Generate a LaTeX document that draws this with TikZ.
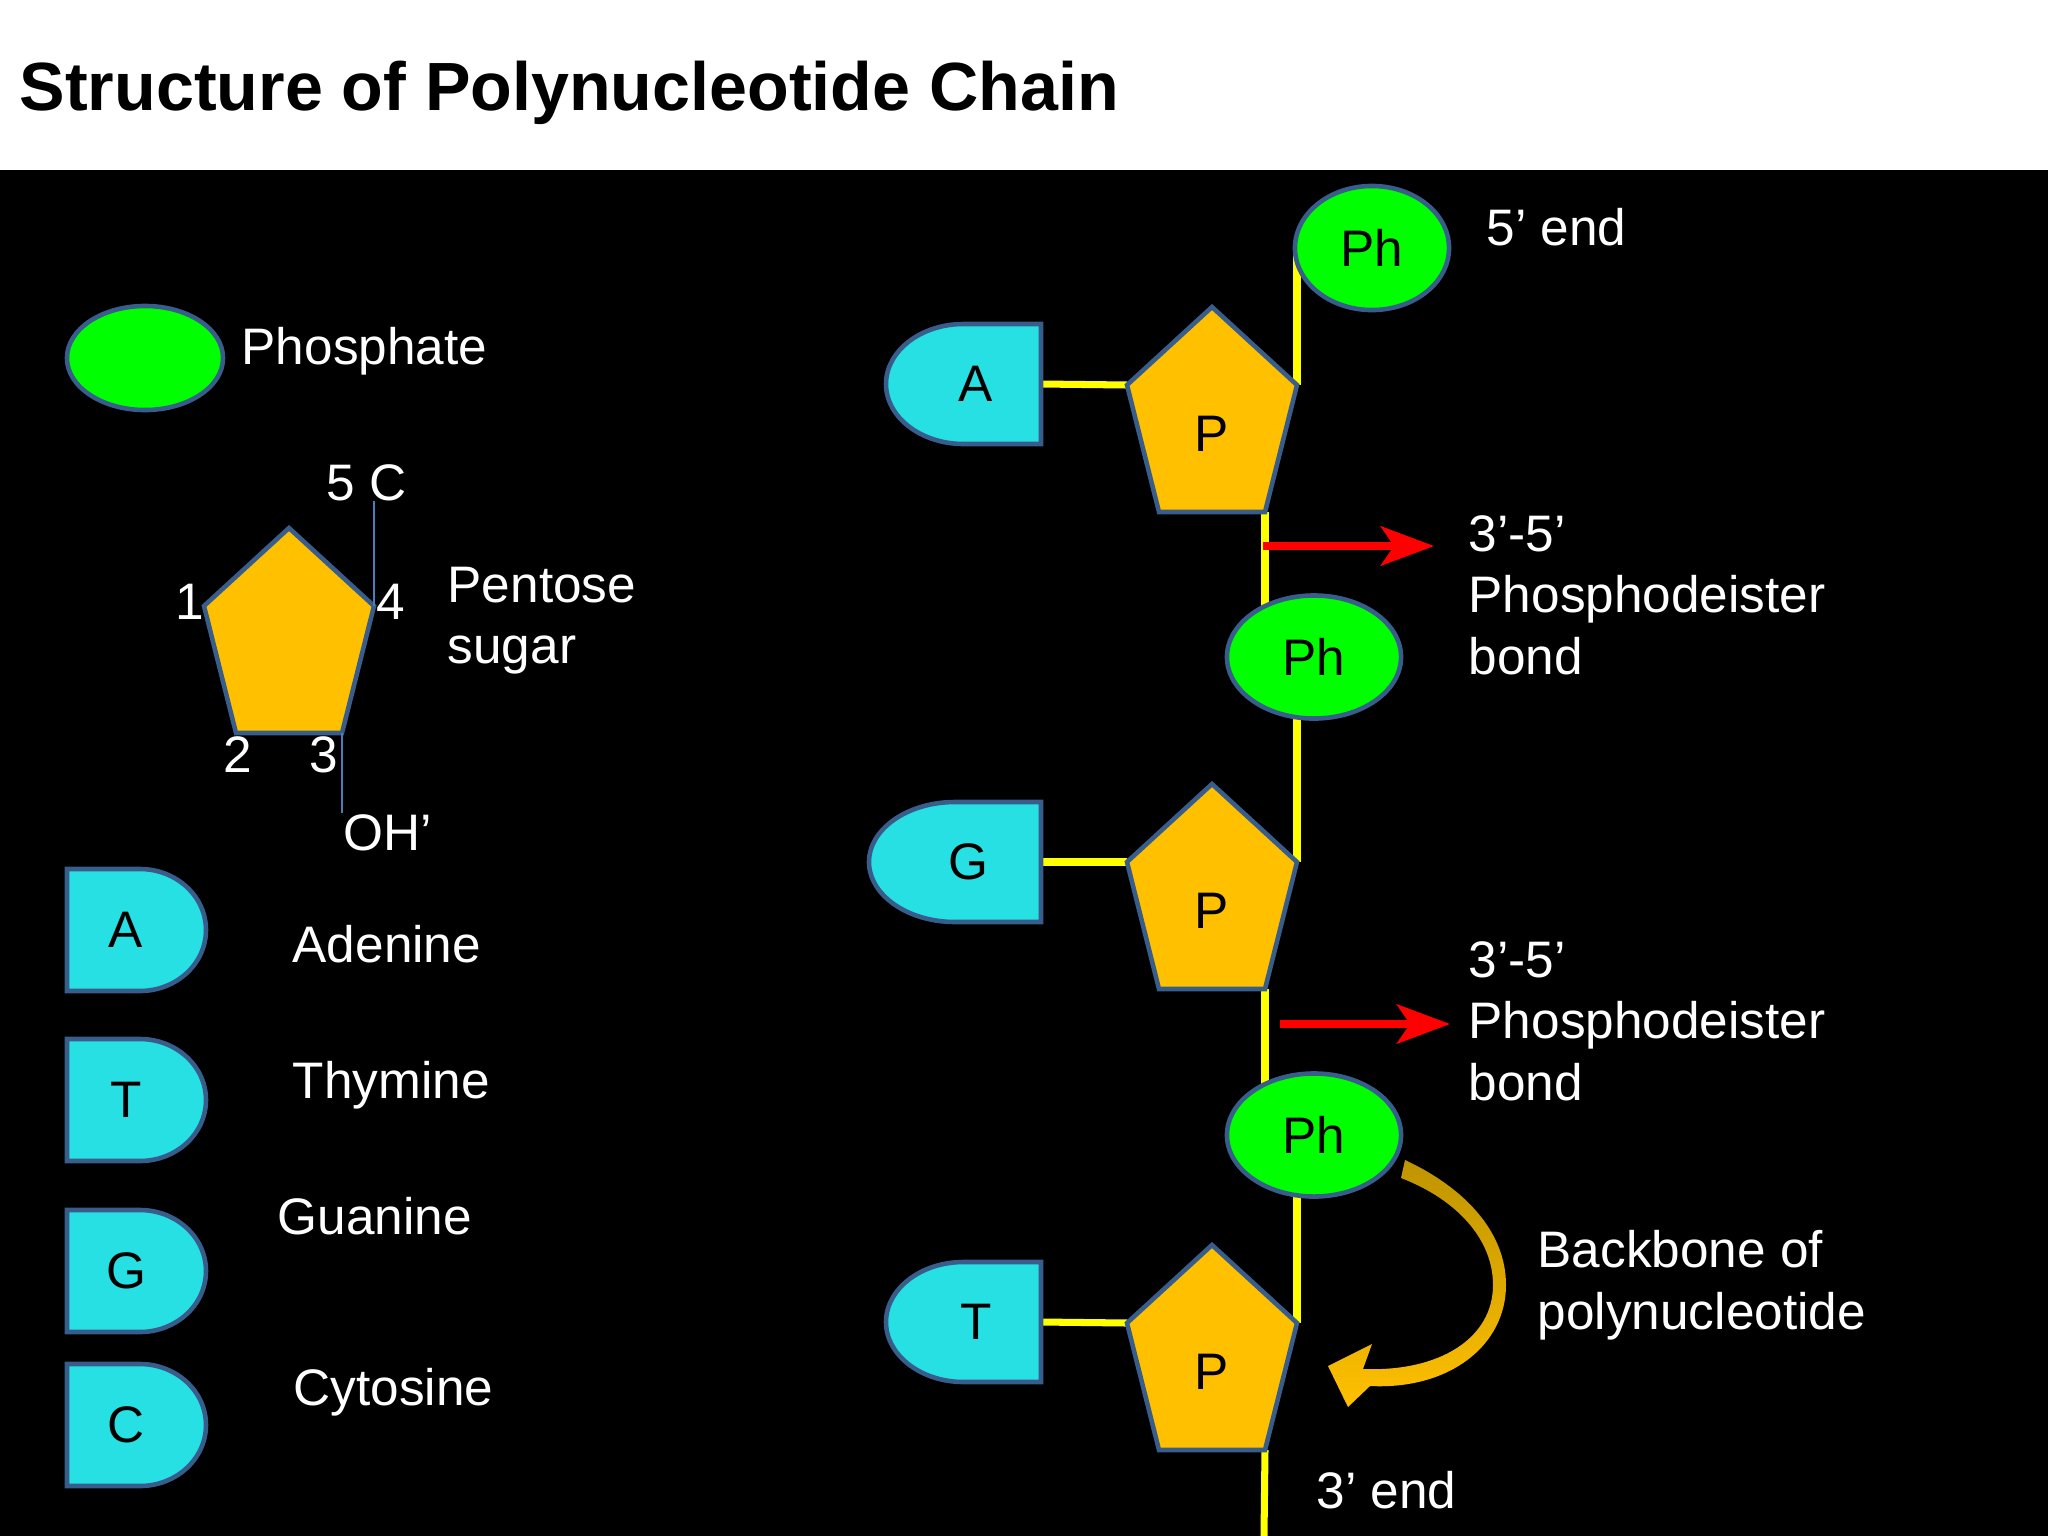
\documentclass[tikz,border=0pt]{standalone}
\usepackage{fontspec}
\setmainfont{Liberation Sans}
\usetikzlibrary{arrows.meta,shapes.geometric}
\definecolor{sugar}{RGB}{255,192,0}
\definecolor{outl}{RGB}{56,93,138}
\definecolor{phos}{RGB}{0,255,0}
\definecolor{basec}{RGB}{38,224,228}
\definecolor{bondc}{RGB}{255,255,0}
\definecolor{linkc}{RGB}{74,126,187}
\definecolor{gold1}{RGB}{190,148,0}
\pgfdeclarelayer{bg}
\pgfsetlayers{bg,main}

% pentose ring: name, top x, top y
\newcommand{\pentose}[3]{%
  \draw[sugarbox] (#2,#3) coordinate (#1-top)
    -- ++(-85,78) coordinate (#1-ul) -- ++(32,127) coordinate (#1-bl)
    -- ++(106,0) coordinate (#1-br) -- ++(32,-127) coordinate (#1-ur) -- cycle;}
% base, round on the left: name, right x, centre y, width, letter
\newcommand{\baseL}[5]{%
  \draw[basebox] (#2,#3-60) -- (#2-#4/2,#3-60)
    .. controls +(-0.276*#4,0) and +(0,-33) .. (#2-#4,#3)
    .. controls +(0,33) and +(-0.276*#4,0) .. (#2-#4/2,#3+60)
    -- (#2,#3+60) -- cycle;
  \coordinate (#1-e) at (#2,#3);
  \node[lbl] (#1) at (#2-0.42*#4,#3) {#5};}
% base, round on the right: name, left x, centre y, letter
\newcommand{\baseR}[4]{%
  \draw[basebox] (#2,#3-61) -- (#2+73,#3-61)
    .. controls +(36,0) and +(0,-34) .. (#2+139,#3)
    .. controls +(0,34) and +(36,0) .. (#2+73,#3+61)
    -- (#2,#3+61) -- cycle;
  \node[lbl] (#1) at (#2+59,#3) {#4};}

\begin{document}
\begin{tikzpicture}[x=0.01cm, y=-0.01cm,
    sugarbox/.style={draw=outl, fill=sugar, line width=1.3pt},
    basebox/.style={draw=outl, fill=basec, line width=1.3pt},
    phbox/.style={ellipse, draw=outl, fill=phos, line width=1.3pt, inner sep=0pt,
                  font=\fontsize{14.6}{17.4}\selectfont},
    lbl/.style={inner sep=0pt, font=\fontsize{14.6}{17.4}\selectfont},
    txt/.style={inner sep=0pt, anchor=base west, align=left, text=white,
                font=\fontsize{14.6}{17.4}\selectfont},
    chain/.style={bondc, line width=2pt},
    link/.style={linkc, line width=0.6pt},
    bondarr/.style={red, line width=2.3pt, -{Stealth[length=0.53cm, width=0.39cm, inset=0.13cm]}}]

    \useasboundingbox (0,0) rectangle (2048,1536);
    \begin{pgfonlayer}{bg}
      \fill[white] (0,0) rectangle (2048,170);
      \fill[black] (0,170) rectangle (2048,1536);
    \end{pgfonlayer}

    \node[font=\fontsize{19.4}{23}\selectfont\bfseries, inner sep=0pt, anchor=base west]
      (title) at (19,110) {Structure of Polynucleotide Chain};

    % legend
    \node[phbox, minimum width=1.56cm, minimum height=1.04cm] (lgph) at (145,358) {};
    \node[txt] (lgphtxt) at (241,364) {Phosphate};
    \pentose{lg}{289}{528}
    \node[txt] (c5) at (326,500) {5 C};
    \node[txt] (n1) at (175,619) {1};
    \node[txt] (n4) at (376,619) {4};
    \node[txt] (n2) at (223,772) {2};
    \node[txt] (n3) at (309,772) {3};
    \node[txt] (oh) at (343,850) {OH’};
    \node[txt, font=\fontsize{14.6}{17.1}\selectfont] (pent) at (447,663) {Pentose\\sugar};
    \draw[link] (lg-ur) -- (lg-ur |- c5.south);
    \draw[link] (lg-br) -- (lg-br |- oh.north);

    \baseR{lA}{67}{930}{A}
    \baseR{lT}{67}{1100}{T}
    \baseR{lG}{67}{1271}{G}
    \baseR{lC}{67}{1425}{C}
    \node[txt] (adenine) at (292,962) {Adenine};
    \node[txt] (thymine) at (292,1098) {Thymine};
    \node[txt] (guanine) at (277,1234) {Guanine};
    \node[txt] (cytosine) at (293,1405) {Cytosine};

    % chain
    \node[phbox, minimum width=1.54cm, minimum height=1.24cm] (ph1) at (1372,248) {Ph};
    \baseL{bA}{1041}{384}{155}{A}
    \pentose{s1}{1212}{307}
    \node[lbl] (p1) at (1212,434) {P};
    \node[phbox, minimum width=1.74cm, minimum height=1.23cm] (ph2) at (1314,657) {Ph};
    \baseL{bG}{1041}{862}{172}{G}
    \pentose{s2}{1212}{784}
    \node[lbl] (p2) at (1212,911) {P};
    \node[phbox, minimum width=1.74cm, minimum height=1.23cm] (ph3) at (1314,1135) {Ph};
    \baseL{bT}{1041}{1322}{155}{T}
    \pentose{s3}{1212}{1245}
    \node[lbl] (p3) at (1212,1372) {P};
    \coordinate (chainend) at (1264,1536);

    \begin{pgfonlayer}{bg}
      \draw[chain] (bA-e) -- (s1-ul);
      \draw[chain] (s1-ur) -- (s1-ur |- ph1.west);
      \draw[chain] (s1-br) -- (s1-br |- ph2.center);
      \draw[chain] (s2-ur |- ph2.center) -- (s2-ur);
      \draw[chain] (bG-e) -- (s2-ul);
      \draw[chain] (s2-br) -- (s2-br |- ph3.center);
      \draw[chain] (s3-ur |- ph3.center) -- (s3-ur);
      \draw[chain] (bT-e) -- (s3-ul);
      \draw[chain] (s3-br) -- (chainend);
    \end{pgfonlayer}

    % bonds
    \coordinate (b1s) at (1263,546);
    \coordinate (b1e) at (1434,546);
    \coordinate (b2s) at (1280,1024);
    \coordinate (b2e) at (1450,1024);
    \draw[bondarr] (b1s) -- (b1e);
    \draw[bondarr] (b2s) -- (b2e);

    \node[txt] (end5) at (1486,245) {5’ end};
    \node[txt] (bond1) at (1468,674) {3’-5’\\Phosphodeister\\bond};
    \node[txt] (bond2) at (1468,1100) {3’-5’\\Phosphodeister\\bond};
    \node[txt] (backbone) at (1537,1329) {Backbone of\\polynucleotide};
    \node[txt] (end3) at (1316,1508) {3’ end};

    % backbone arrow
    \shade[top color=gold1, bottom color=sugar]
      (1405,1160) .. controls (1465,1188) and (1506,1232) .. (1506,1285)
      .. controls (1506,1345) and (1450,1390) .. (1370,1386)
      -- (1348,1407) -- (1328,1366) -- (1372,1344) -- (1363,1369)
      .. controls (1440,1372) and (1493,1338) .. (1493,1285)
      .. controls (1493,1240) and (1458,1200) .. (1401,1178) -- cycle;
\end{tikzpicture}
\end{document}
